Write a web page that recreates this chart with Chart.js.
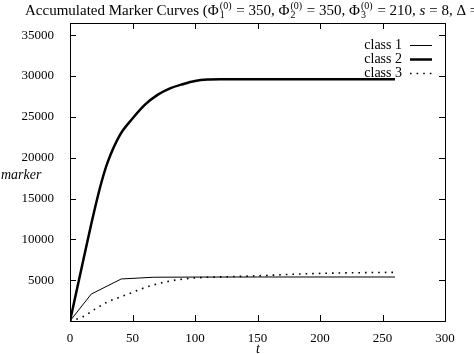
<!DOCTYPE html>
<html>
<head>
<meta charset="utf-8">
<script src="https://cdn.jsdelivr.net/npm/chart.js@4/dist/chart.umd.min.js"></script>
<style>
  html, body { margin: 0; padding: 0; background: #fff; }
  canvas { display: block; }
</style>
</head>
<body>
<canvas id="markerChart" width="474" height="354"></canvas>
<script>
// ---------- data ----------
const class1T = [0, 17, 41, 67, 100, 150, 200, 260];
const class1Values = [0, 3300, 5150, 5360, 5380, 5390, 5390, 5390];

const class2T = [0, 10, 19, 25, 30, 40, 50, 60, 70, 80, 90, 100, 110, 120, 160, 200, 260];
const class2Values = [0, 7000, 13200, 16900, 19400, 22800, 24800, 26500, 27700, 28500, 29000, 29400, 29570, 29600, 29600, 29600, 29600];

const class3T = [0, 10, 20, 30, 40, 50, 60, 70, 80, 90, 100, 120, 140, 160, 180, 200, 220, 240, 260];
const class3Values = [0, 500, 1450, 2330, 2920, 3500, 4100, 4550, 4890, 5130, 5280, 5400, 5480, 5600, 5740, 5830, 5890, 5930, 5960];

const seriesLabels = ['class 1', 'class 2', 'class 3'];
const xTicks = [0, 50, 100, 150, 200, 250, 300];
const yTicks = [5000, 10000, 15000, 20000, 25000, 30000, 35000];

const SERIF = '"Liberation Serif", "Times New Roman", serif';

function points(ts, vs) {
    return ts.map((t, i) => ({ x: t, y: vs[i] }));
}

// title with sub/superscripts, drawn piece by piece
const titlePieces = [
    { text: 'Accumulated Marker Curves (' },
    { text: '\u03A6' }, { sup: '(0)', sub: '1' }, { text: ' = 350, ' },
    { text: '\u03A6' }, { sup: '(0)', sub: '2' }, { text: ' = 350, ' },
    { text: '\u03A6' }, { sup: '(0)', sub: '3' }, { text: ' = 210, ' },
    { text: 's', italic: true }, { text: ' = 8, ' },
    { text: '\u0394 =' }
];

const framePlugin = {
    id: 'frame',
    afterDraw(chart) {
        const ctx = chart.ctx;
        const a = chart.chartArea;
        const xs = chart.scales.x, ys = chart.scales.y;
        ctx.save();
        ctx.strokeStyle = '#000';
        ctx.lineWidth = 1;
        ctx.strokeRect(Math.round(a.left) + 0.5, Math.round(a.top) + 0.5,
            Math.round(a.right - a.left), Math.round(a.bottom - a.top));

        // inward ticks on all four sides
        const len = 6;
        ctx.beginPath();
        xTicks.forEach(v => {
            const px = Math.round(xs.getPixelForValue(v)) + 0.5;
            ctx.moveTo(px, a.bottom); ctx.lineTo(px, a.bottom - len);
            ctx.moveTo(px, a.top); ctx.lineTo(px, a.top + len);
        });
        yTicks.forEach(v => {
            const py = Math.round(ys.getPixelForValue(v)) + 0.5;
            ctx.moveTo(a.left, py); ctx.lineTo(a.left + len, py);
            ctx.moveTo(a.right, py); ctx.lineTo(a.right - len, py);
        });
        ctx.stroke();

        // axis names
        ctx.fillStyle = '#000';
        ctx.font = 'italic 14px ' + SERIF;
        ctx.textBaseline = 'middle';
        ctx.textAlign = 'left';
        ctx.fillText('marker', 1, 175);
        ctx.textAlign = 'center';
        ctx.fillText('t', 258, 349);

        // key, top right inside the plot
        ctx.font = '14px ' + SERIF;
        chart.data.datasets.forEach((ds, i) => {
            const y = 45 + i * 14;
            ctx.textAlign = 'right';
            ctx.fillText(ds.label, 402, y);
            ctx.beginPath();
            ctx.lineWidth = ds.borderWidth;
            ctx.setLineDash(ds.borderDash || []);
            ctx.moveTo(410, y + 0.5);
            ctx.lineTo(432, y + 0.5);
            ctx.stroke();
        });
        ctx.setLineDash([]);

        // title
        let x = 25;
        const base = 15;
        ctx.textAlign = 'left';
        ctx.textBaseline = 'alphabetic';
        titlePieces.forEach(p => {
            if (p.text) {
                ctx.font = (p.italic ? 'italic ' : '') + '15px ' + SERIF;
                ctx.fillText(p.text, x, base);
                x += ctx.measureText(p.text).width;
            } else {
                ctx.font = '10px ' + SERIF;
                ctx.fillText(p.sup, x + 1, base - 6);
                ctx.fillText(p.sub, x + 1, base + 3);
                x += Math.max(ctx.measureText(p.sup).width, ctx.measureText(p.sub).width) + 2;
            }
        });
        ctx.restore();
    }
};

new Chart(document.getElementById('markerChart'), {
    type: 'line',
    data: {
        datasets: [
            {
                label: seriesLabels[0],
                data: points(class1T, class1Values),
                borderColor: '#000',
                borderWidth: 1,
                tension: 0
            },
            {
                label: seriesLabels[1],
                data: points(class2T, class2Values),
                borderColor: '#000',
                borderWidth: 2.5,
                cubicInterpolationMode: 'monotone'
            },
            {
                label: seriesLabels[2],
                data: points(class3T, class3Values),
                borderColor: '#000',
                borderWidth: 1.6,
                borderDash: [1.6, 5],
                cubicInterpolationMode: 'monotone'
            }
        ]
    },
    options: {
        responsive: false,
        animation: false,
        devicePixelRatio: 1,
        layout: { padding: { top: 23, right: 29, bottom: 0, left: 0 } },
        elements: { point: { radius: 0 } },
        plugins: {
            legend: { display: false },
            title: { display: false },
            tooltip: { enabled: false }
        },
        scales: {
            x: {
                type: 'linear',
                min: 0,
                max: 300,
                afterBuildTicks: s => { s.ticks = xTicks.map(v => ({ value: v })); },
                afterFit: s => { s.height = 33; },
                grid: { display: false },
                border: { display: false },
                ticks: {
                    color: '#000',
                    padding: 2,
                    maxRotation: 0,
                    callback: v => String(v),
                    font: { family: SERIF, size: 13 }
                }
            },
            y: {
                type: 'linear',
                min: 0,
                max: 36500,
                afterBuildTicks: s => { s.ticks = yTicks.map(v => ({ value: v })); },
                afterFit: s => { s.width = 70; },
                grid: { display: false },
                border: { display: false },
                ticks: {
                    color: '#000',
                    padding: 8,
                    callback: v => String(v),
                    font: { family: SERIF, size: 13 }
                }
            }
        }
    },
    plugins: [framePlugin]
});
</script>
</body>
</html>
